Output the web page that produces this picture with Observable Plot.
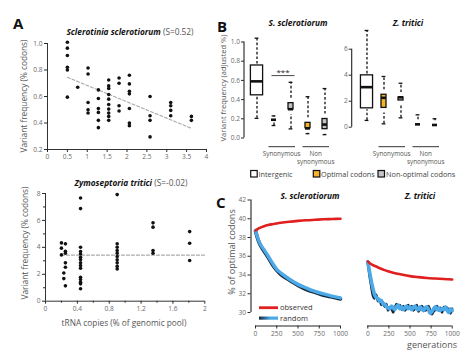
<!DOCTYPE html>
<html><head><meta charset="utf-8">
<script src="https://cdn.jsdelivr.net/npm/d3@7"></script>
<script src="https://cdn.jsdelivr.net/npm/@observablehq/plot@0.6"></script>
<style>
html,body{margin:0;padding:0;background:#fff;}
#wrap{position:relative;width:474px;height:361px;overflow:hidden;background:#fff;}
#wrap svg{position:absolute;left:0;top:0;overflow:visible;}
</style></head><body><div id="wrap"></div>
<script>
// ---------- Panel A data ----------
const sclCols = [0.5, 0.76, 1.02, 1.28, 1.54, 1.8, 2.06, 2.58, 3.1, 3.62];
const sclVals = [
  [1.01, 0.965, 0.91, 0.82, 0.80, 0.595],
  [0.67],
  [0.815, 0.77, 0.555, 0.50, 0.475],
  [0.65, 0.585, 0.51, 0.48, 0.42, 0.365],
  [0.725, 0.68, 0.66, 0.615, 0.58, 0.54, 0.505, 0.475, 0.45, 0.42],
  [0.74, 0.70, 0.53, 0.49],
  [0.76, 0.695, 0.64, 0.62, 0.51, 0.40, 0.38],
  [0.60, 0.455, 0.42, 0.295],
  [0.555, 0.53, 0.495, 0.455],
  [0.45, 0.42]
];
const sclTrendX = [0.5, 3.62];
const sclTrendY = [0.745, 0.36];
const sclXTicks = [0, 0.5, 1, 1.5, 2, 2.5, 3, 3.5, 4];
const sclYTicks = [0.2, 0.4, 0.6, 0.8, 1.0];

const ztTrna = [0.2,0.25,0.2,0.25,0.2,0.25,0.25,0.25,0.23,0.23,0.25,
  0.44,0.44,0.44,0.44,0.44,0.44,0.44,0.44,0.44,0.44,0.44,0.44,0.44,0.44,0.44,
  0.9,0.9,0.9,0.9,0.9,0.9,0.9,0.9,0.9,0.9,
  1.35,1.35,1.35,1.35,
  1.81,1.81,1.81];
const ztVar = [4.33,4.26,3.94,3.71,3.44,3.56,2.85,2.52,2.1,1.68,1.14,
  7.67,6.88,4.01,3.69,3.51,3.27,3.09,2.85,2.65,2.45,1.78,1.61,1.41,1.29,0.92,
  7.92,4.26,4.01,3.76,3.56,3.32,3.07,2.85,2.6,2.4,
  5.82,5.5,3.76,3.56,
  5.17,4.31,3.02];
const ztTrendX = [0.2, 2.0];
const ztTrendY = [3.42, 3.42];
const ztXLabels = [0, 0.4, 0.8, 1.2, 1.6, 2];
const ztXMinor = [0.2, 0.6, 1.0, 1.4, 1.8];
const ztYLabels = [0, 2, 4, 6, 8];
const ztYMinor = [1, 3, 5, 7];

// ---------- Panel B data ----------
const boxCats = ["Intergenic", "Optimal syn", "Non-optimal syn", "Optimal nonsyn", "Non-optimal nonsyn"];
const boxTypes = ["Intergenic", "Optimal codons", "Non-optimal codons", "Optimal codons", "Non-optimal codons"];
const typeNames = ["Intergenic", "Optimal codons", "Non-optimal codons"];
const typeColors = ["#ffffff", "#f5b22a", "#c4c4c4"];
const sLo  = [0.205, 0.13, 0.095, 0.045, 0.035];
const sQ1  = [0.43, 0.165, 0.245, 0.05, 0.04];
const sMed = [0.59, 0.19, 0.30, 0.10, 0.14];
const sQ3  = [0.77, 0.22, 0.415, 0.21, 0.25];
const sHi  = [1.04, 0.23, 0.58, 0.43, 0.515];
const zLo  = [0.52, 0.26, 0.72, 0, 0];
const zQ1  = [1.34, 1.1, 1.67, 0, 0];
const zMed = [3.08, 2.26, 2.3, 0.22, 0.17];
const zQ3  = [4.1, 2.88, 2.67, 0.57, 0.5];
const zHi  = [7.44, 3.9, 3.38, 0.95, 0.65];
const sYTicks = [0, 0.2, 0.4, 0.6, 0.8, 1.0];
const zYTicks = [0, 2, 4, 6];

// ---------- Panel C data ----------
const genS = [0, 25, 50, 100, 150, 200, 250, 300, 400, 500, 600, 700, 800, 900, 1000];
const sObs = [38.75, 38.9, 39.02, 39.2, 39.33, 39.42, 39.5, 39.57, 39.68, 39.77, 39.84, 39.89, 39.94, 39.97, 40.0];
const sRand = [38.75, 38.0, 37.4, 36.7, 36.0, 35.25, 34.6, 34.2, 33.55, 33.0, 32.6, 32.25, 31.98, 31.75, 31.55];
const sRandDark = [38.7, 37.9, 37.3, 36.55, 35.85, 35.1, 34.5, 34.05, 33.45, 32.9, 32.45, 32.15, 31.85, 31.65, 31.45];
const zObs = [35.45, 35.25, 35.1, 34.9, 34.7, 34.52, 34.38, 34.25, 34.05, 33.88, 33.77, 33.68, 33.62, 33.57, 33.52];
const genZ = [0,20,40,60,80,100,120,140,160,180,200,220,240,260,280,300,320,340,360,380,400,420,440,460,480,500,
  520,540,560,580,600,620,640,660,680,700,720,740,760,780,800,820,840,860,880,900,920,940,960,980,1000];
const zRand = [35.4,34.4,33.4,32.6,31.9,31.6,31.5,31.2,31.3,30.9,30.9,30.6,30.5,30.4,30.7,30.5,30.3,30.6,30.8,30.4,30.6,
  30.3,30.5,30.7,30.4,30.6,30.3,30.5,30.7,30.4,30.3,30.6,30.4,30.2,30.5,30.6,30.3,29.9,30.1,30.4,30.6,30.3,30.5,30.2,
  30.4,30.3,30.6,30.2,30.0,30.4,30.2];
const zRandDark = [35.3,33.9,32.8,31.8,31.5,31.9,31.2,31.4,30.8,31.1,30.6,30.9,30.2,30.6,30.4,30.0,30.5,30.9,30.5,30.8,
  30.3,30.7,30.2,30.5,30.8,30.4,30.7,30.2,30.4,30.8,30.1,30.4,30.7,30.4,30.2,30.4,30.7,30.2,29.8,30.1,30.3,30.7,30.2,
  30.5,30.0,30.6,30.3,30.5,30.2,29.9,30.4];
const cYTicks = [30, 32, 34, 36, 38, 40, 42];
const cXTicks = [0, 250, 500, 750, 1000];

// ---------- helpers ----------
const W = 474, H = 361;
const FONT = '"Open Sans", "DejaVu Sans", sans-serif';
const wrap = document.getElementById("wrap");
const RED = "#e01f1f", BLUE = "#4ba9e8", DARK = "#16283c";
const plain = d => String(d);

function base(o) {
  const svg = Plot.plot(Object.assign({
    width: W, height: H,
    style: {background: "none", fontFamily: FONT, fontSize: "6.6px", color: "#2a2a2a", overflow: "visible"}
  }, o));
  wrap.appendChild(svg);
  return svg;
}
function txt(svg, x, y, s, o = {}) {
  const t = d3.select(svg).append("text")
    .attr("x", x).attr("y", y)
    .attr("font-family", FONT)
    .attr("font-size", o.size || 8)
    .attr("fill", o.fill || "#555")
    .attr("text-anchor", o.anchor || "middle");
  if (o.rotate) t.attr("transform", `rotate(-90 ${x} ${y})`);
  if (o.weight) t.attr("font-weight", o.weight);
  if (o.italic) t.attr("font-style", "italic");
  t.text(s);
  return t;
}
function title(svg, x, y, it, rest, size) {
  const t = d3.select(svg).append("text").attr("x", x).attr("y", y)
    .attr("font-family", FONT).attr("font-size", size).attr("text-anchor", "middle");
  t.append("tspan").attr("font-weight", "bold").attr("font-style", "italic").attr("fill", "#111").text(it);
  if (rest) t.append("tspan").attr("fill", "#555").text(rest);
}
function line(svg, x1, y1, x2, y2, o = {}) {
  d3.select(svg).append("line").attr("x1", x1).attr("y1", y1).attr("x2", x2).attr("y2", y2)
    .attr("stroke", o.stroke || "#222").attr("stroke-width", o.width || 1);
}
const axText = "#6a6a6a";

// ---------- Panel A top ----------
const sclData = sclCols.flatMap((c, i) => sclVals[i].map(v => ({x: c, y: v})));
const sclTrend = sclTrendX.map((x, i) => ({x, y: sclTrendY[i]}));
const a1 = base({
  marginLeft: 47, marginRight: W - 206, marginTop: 43, marginBottom: H - 149,
  x: {domain: [0, 4]}, y: {domain: [0.2, 1.0]},
  marks: [
    Plot.ruleX([0], {y1: 0.2, y2: 1.0, stroke: "#333"}),
    Plot.ruleY([0.2], {x1: 0, x2: 4, stroke: "#333"}),
    Plot.axisX({ticks: sclXTicks, tickSize: 3, tickPadding: 2, tickFormat: plain, label: null, fill: axText}),
    Plot.axisY({ticks: sclYTicks, tickSize: 3, tickPadding: 2, tickFormat: ".1f", label: null, fill: axText}),
    Plot.line(sclTrend, {x: "x", y: "y", stroke: "#aaa", strokeWidth: 1.1, strokeDasharray: "3,2"}),
    Plot.dot(sclData, {x: "x", y: "y", r: 1.8, fill: "#111", stroke: "none"})
  ]
});
title(a1, 130, 35, "Sclerotinia sclerotiorum", " (S=0.52)", 8.3);
txt(a1, 27, 96, "Variant frequency (% codons)", {rotate: true, size: 8.3, fill: "#555"});
txt(a1, 13, 29, "A", {size: 15, weight: "bold", fill: "#111", anchor: "start"});

// ---------- Panel A bottom ----------
const ztData = ztTrna.map((x, i) => ({x, y: ztVar[i]}));
const ztTrend = ztTrendX.map((x, i) => ({x, y: ztTrendY[i]}));
const a2 = base({
  marginLeft: 45, marginRight: W - 204.3, marginTop: 193, marginBottom: H - 300.7,
  x: {domain: [0, 2]}, y: {domain: [0, 8]},
  marks: [
    Plot.ruleX([0], {y1: 0, y2: 8, stroke: "#333"}),
    Plot.ruleY([0], {x1: 0, x2: 2, stroke: "#333"}),
    Plot.axisX({ticks: ztXLabels, tickSize: 3, tickPadding: 2, tickFormat: plain, label: null, fill: axText}),
    Plot.axisX({ticks: ztXMinor, tickSize: 2, tickFormat: () => "", label: null}),
    Plot.axisY({ticks: ztYLabels, tickSize: 3, tickPadding: 2, tickFormat: plain, label: null, fill: axText}),
    Plot.axisY({ticks: ztYMinor, tickSize: 2, tickFormat: () => "", label: null}),
    Plot.line(ztTrend, {x: "x", y: "y", stroke: "#aaa", strokeWidth: 1.1, strokeDasharray: "3,2"}),
    Plot.dot(ztData, {x: "x", y: "y", r: 1.8, fill: "#111", stroke: "none"})
  ]
});
title(a2, 131, 186, "Zymoseptoria tritici", " (S=-0.02)", 8.3);
txt(a2, 28, 243, "Variant frequency (% codons)", {rotate: true, size: 8.3, fill: "#555"});
txt(a2, 124, 326, "tRNA copies (% of genomic pool)", {size: 8.3, fill: "#555"});

// ---------- Panel B ----------
function boxRows(lo, q1, med, q3, hi) {
  return boxCats.map((c, i) => ({cat: c, type: boxTypes[i], lo: lo[i], q1: q1[i], med: med[i], q3: q3[i], hi: hi[i]}));
}
function boxMarks(rows, wideInset, narrowInset, capInset) {
  const wide = rows.filter(d => d.type === "Intergenic");
  const narrow = rows.filter(d => d.type !== "Intergenic");
  const whisk = {x: "cat", stroke: "#111", strokeWidth: 1.3, strokeDasharray: "2.6,2"};
  return [
    Plot.ruleX(rows.filter(d => d.hi > d.q3), {...whisk, y1: "q3", y2: "hi"}),
    Plot.ruleX(rows.filter(d => d.lo < d.q1), {...whisk, y1: "lo", y2: "q1"}),
    Plot.tickY(rows.filter(d => d.hi > d.q3), {x: "cat", y: "hi", stroke: "#111", strokeWidth: 1.3, inset: capInset}),
    Plot.tickY(rows.filter(d => d.lo < d.q1), {x: "cat", y: "lo", stroke: "#111", strokeWidth: 1.3, inset: capInset}),
    Plot.barY(wide, {x: "cat", y1: "q1", y2: "q3", fill: "type", stroke: "#111", strokeWidth: 1.3, inset: wideInset}),
    Plot.barY(narrow, {x: "cat", y1: "q1", y2: "q3", fill: "type", stroke: "#111", strokeWidth: 1.3, inset: narrowInset}),
    Plot.tickY(wide, {x: "cat", y: "med", stroke: "#111", strokeWidth: 2.6, inset: wideInset}),
    Plot.tickY(narrow, {x: "cat", y: "med", stroke: "#111", strokeWidth: 2.6, inset: narrowInset})
  ];
}
const colorScale = {domain: typeNames, range: typeColors};
const sRows = boxRows(sLo, sQ1, sMed, sQ3, sHi);
const b1 = base({
  marginLeft: 244, marginRight: W - 335, marginTop: 41.5, marginBottom: H - 137.5,
  x: {type: "band", domain: boxCats, range: [247.25, 334.75], axis: null},
  y: {domain: [0, 1]},
  color: colorScale,
  marks: [
    Plot.axisY({ticks: sYTicks, tickSize: 3, tickPadding: 1.5, tickFormat: ".1f", label: null, fill: axText}),
    ...boxMarks(sRows, 1.4, 5, 5.6)
  ]
});
const zRows = boxRows(zLo, zQ1, zMed, zQ3, zHi);
const b2 = base({
  marginLeft: 351.7, marginRight: W - 446, marginTop: 48.7, marginBottom: H - 126.7,
  x: {type: "band", domain: boxCats, range: [355.85, 445.35], axis: null},
  y: {domain: [0, 6]},
  color: colorScale,
  marks: [
    Plot.axisY({ticks: zYTicks, tickSize: 3, tickPadding: 1.5, tickFormat: plain, label: null, fill: axText}),
    ...boxMarks(zRows, 1.45, 5, 5.6)
  ]
});
{
  const ys = b1.scale("y"), yz = b2.scale("y");
  line(b1, 244, ys.apply(0), 244, ys.apply(1), {width: 1.1});
  line(b2, 351.7, yz.apply(0), 351.7, yz.apply(6), {width: 1.1});
  const xs = b1.scale("x"), bw = xs.bandwidth;
  const c1 = xs.apply(boxCats[1]) + bw / 2, c2 = xs.apply(boxCats[2]) + bw / 2;
  line(b1, c1 - 2, ys.apply(0.645), c2 + 4, ys.apply(0.645), {width: 0.9, stroke: "#333"});
  txt(b1, (c1 + c2) / 2 + 1, ys.apply(0.645) - 1, "***", {size: 8, fill: "#222"});
  function groups(svg, sc) {
    const w = sc.bandwidth;
    const c = boxCats.map(k => sc.apply(k) + w / 2);
    [[1, 2], [3, 4]].forEach(([a, b], gi) => {
      const xa = c[a] - 5, xb = c[b] + 4.5;
      line(svg, xa, 146.7, xb, 146.7, {width: 1, stroke: "#333"});
      const mx = (xa + xb) / 2;
      if (gi === 0) txt(svg, mx, 156, "Synonymous", {size: 6.3, fill: "#555"});
      else { txt(svg, mx, 156, "Non", {size: 6.3, fill: "#555"}); txt(svg, mx, 164, "synonymous", {size: 6.3, fill: "#555"}); }
    });
  }
  groups(b1, xs);
  groups(b2, b2.scale("x"));
}
title(b1, 298, 26, "S. sclerotiorum", "", 8.3);
title(b2, 408, 26, "Z. tritici", "", 8.3);
txt(b1, 226, 88, "Variant frequency (adjusted %)", {rotate: true, size: 7.5, fill: "#555"});
txt(b1, 217, 32, "B", {size: 15, weight: "bold", fill: "#111", anchor: "start"});
{
  const g = d3.select(b1);
  const items = [[250.7, 258.5], [313.3, 321], [378, 386]];
  typeNames.forEach((n, i) => {
    g.append("rect").attr("x", items[i][0]).attr("y", 170.5).attr("width", 6.5).attr("height", 6.5)
      .attr("fill", typeColors[i]).attr("stroke", "#111").attr("stroke-width", 1.2);
    txt(b1, items[i][1], 177, n, {size: 7.3, fill: "#444", anchor: "start"});
  });
}

// ---------- Panel C ----------
const sObsD = genS.map((g, i) => ({g, v: sObs[i]}));
const sRandD = genS.map((g, i) => ({g, v: sRand[i]}));
const sRandDarkD = genS.map((g, i) => ({g, v: sRandDark[i]}));
const zObsD = genS.map((g, i) => ({g, v: zObs[i]}));
const zRandD = genZ.map((g, i) => ({g, v: zRand[i]}));
const zRandDarkD = genZ.map((g, i) => ({g, v: zRandDark[i]}));
const c1 = base({
  marginLeft: 255, marginRight: W - 340, marginTop: 199.5, marginBottom: H - 312,
  x: {domain: [0, 1000]}, y: {domain: [30, 42]},
  marks: [
    Plot.ruleX([0], {y1: 30, y2: 42, dx: -4.5, stroke: "#222", strokeWidth: 1.1}),
    Plot.ruleY([30], {x1: 0, x2: 1000, dy: 13.5, stroke: "#222", strokeWidth: 1.1}),
    Plot.axisY({ticks: cYTicks, tickSize: 3, tickPadding: 2, dx: -4.5, tickFormat: plain, label: null, fill: axText}),
    Plot.axisX({ticks: cXTicks, tickSize: 3, tickPadding: 2, dy: 13.5, tickFormat: plain, label: null, fill: axText}),
    Plot.line(sRandDarkD, {x: "g", y: "v", stroke: DARK, strokeWidth: 3.6, curve: "monotone-x"}),
    Plot.line(sRandD, {x: "g", y: "v", stroke: BLUE, strokeWidth: 3.4, curve: "monotone-x"}),
    Plot.line(sObsD, {x: "g", y: "v", stroke: RED, strokeWidth: 2.6, curve: "monotone-x"})
  ]
});
const c2 = base({
  marginLeft: 367.3, marginRight: W - 451.7, marginTop: 199.5, marginBottom: H - 312,
  x: {domain: [0, 1000]}, y: {domain: [30, 42], axis: null},
  marks: [
    Plot.ruleY([30], {x1: 0, x2: 1000, dy: 13.5, stroke: "#222", strokeWidth: 1.1}),
    Plot.axisX({ticks: cXTicks, tickSize: 3, tickPadding: 2, dy: 13.5, tickFormat: plain, label: null, fill: axText}),
    Plot.line(zRandDarkD, {x: "g", y: "v", stroke: DARK, strokeWidth: 2.4, curve: "monotone-x"}),
    Plot.line(zRandD, {x: "g", y: "v", stroke: BLUE, strokeWidth: 3.6, curve: "monotone-x"}),
    Plot.line(zObsD, {x: "g", y: "v", stroke: RED, strokeWidth: 2.6, curve: "monotone-x"})
  ]
});
title(c1, 310, 199, "S. sclerotiorum", "", 8.3);
title(c2, 420, 199, "Z. tritici", "", 8.3);
txt(c1, 235, 252, "% of optimal codons", {rotate: true, size: 9, fill: "#555"});
txt(c2, 457, 348, "generations", {size: 9, fill: "#555", anchor: "end"});
txt(c1, 216, 208, "C", {size: 15, weight: "bold", fill: "#111", anchor: "start"});
{
  const g = d3.select(c1);
  const defs = g.append("defs");
  const lg = defs.append("linearGradient").attr("id", "randGrad").attr("x1", "0").attr("x2", "1");
  lg.append("stop").attr("offset", "0").attr("stop-color", DARK);
  lg.append("stop").attr("offset", "0.6").attr("stop-color", BLUE);
  lg.append("stop").attr("offset", "1").attr("stop-color", BLUE);
  g.append("rect").attr("x", 259).attr("y", 306.3).attr("width", 19).attr("height", 2.8).attr("fill", RED);
  g.append("rect").attr("x", 259).attr("y", 316.5).attr("width", 19).attr("height", 3.2).attr("fill", "url(#randGrad)");
  txt(c1, 280, 310.2, "observed", {size: 7.5, fill: "#333", anchor: "start"});
  txt(c1, 280, 320.9, "random", {size: 7.5, fill: "#333", anchor: "start"});
}
</script></body></html>
